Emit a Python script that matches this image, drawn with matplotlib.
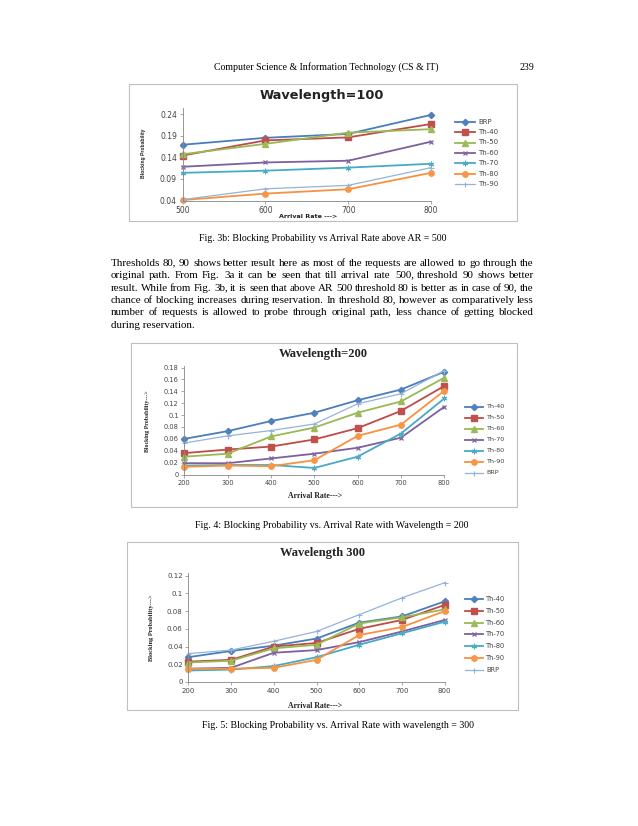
import matplotlib
matplotlib.use('Agg')
import matplotlib.pyplot as plt
from matplotlib.lines import Line2D
from matplotlib.patches import Rectangle

W, H = 638, 826

# ---- data: Fig. 3b (wavelength = 100) ----
ar_100 = [500, 600, 700, 800]
names_100 = ['BRP', 'Th-40', 'Th-50', 'Th-60', 'Th-70', 'Th-80', 'Th-90']
wl100_brp = [0.169, 0.185, 0.194, 0.238]
wl100_th40 = [0.144, 0.179, 0.186, 0.217]
wl100_th50 = [0.147, 0.171, 0.197, 0.205]
wl100_th60 = [0.118, 0.128, 0.132, 0.176]
wl100_th70 = [0.104, 0.109, 0.116, 0.125]
wl100_th80 = [0.041, 0.056, 0.066, 0.104]
wl100_th90 = [0.042, 0.067, 0.075, 0.116]

# ---- data: Fig. 4 (wavelength = 200) and Fig. 5 (wavelength = 300) ----
ar = [200, 300, 400, 500, 600, 700, 800]
names_200 = ['Th-40', 'Th-50', 'Th-60', 'Th-70', 'Th-80', 'Th-90', 'BRP']
wl200_th40 = [0.060, 0.073, 0.090, 0.104, 0.125, 0.143, 0.173]
wl200_th50 = [0.036, 0.042, 0.047, 0.059, 0.078, 0.107, 0.149]
wl200_th60 = [0.030, 0.035, 0.064, 0.079, 0.104, 0.123, 0.163]
wl200_th70 = [0.019, 0.019, 0.027, 0.035, 0.045, 0.062, 0.114]
wl200_th80 = [0.015, 0.016, 0.016, 0.011, 0.030, 0.069, 0.128]
wl200_th90 = [0.013, 0.015, 0.014, 0.024, 0.065, 0.084, 0.141]
wl200_brp = [0.053, 0.065, 0.074, 0.085, 0.119, 0.136, 0.175]

wl300_th40 = [0.028, 0.035, 0.041, 0.049, 0.067, 0.074, 0.091]
wl300_th50 = [0.023, 0.025, 0.040, 0.044, 0.060, 0.070, 0.087]
wl300_th60 = [0.022, 0.024, 0.038, 0.042, 0.066, 0.073, 0.082]
wl300_th70 = [0.015, 0.016, 0.033, 0.036, 0.045, 0.057, 0.070]
wl300_th80 = [0.013, 0.014, 0.018, 0.028, 0.042, 0.055, 0.068]
wl300_th90 = [0.015, 0.015, 0.016, 0.025, 0.053, 0.062, 0.080]
wl300_brp = [0.032, 0.036, 0.046, 0.057, 0.076, 0.095, 0.112]

header = "Computer Science & Information Technology (CS & IT)"
page_no = "239"
cap_3b = "Fig. 3b: Blocking Probability vs Arrival Rate above AR = 500"
cap_4 = "Fig. 4: Blocking Probability vs. Arrival Rate with Wavelength = 200"
cap_5 = "Fig. 5: Blocking Probability vs. Arrival Rate with wavelength = 300"
para = [
    "Thresholds 80, 90 shows better result here as most of the requests are allowed to go through the",
    "original path. From Fig. 3a it can be seen that till arrival rate 500, threshold 90 shows better",
    "result. While from Fig. 3b, it is seen that above AR 500 threshold 80 is better as in case of 90, the",
    "chance of blocking increases during reservation. In threshold 80, however as comparatively less",
    "number of requests is allowed to probe through original path, less chance of getting blocked",
    "during reservation.",
]

# excel 2007 series styles
S = [
    dict(color='#4A7EBB', marker='D', ms=3.2, mfc='#4F81BD', mec='#4F81BD', lw=1.3),
    dict(color='#BE4B48', marker='s', ms=3.9, mfc='#C0504D', mec='#C0504D', lw=1.3),
    dict(color='#98B954', marker='^', ms=4.0, mfc='#9BBB59', mec='#9BBB59', lw=1.3),
    dict(color='#7D60A0', marker='x', ms=3.4, mec='#8064A2', mew=0.9, lw=1.3),
    dict(color='#46AAC5', marker=(6, 2, 0), ms=4.0, mec='#4BACC6', mew=0.8, lw=1.3),
    dict(color='#F69240', marker='o', ms=3.9, mfc='#F79646', mec='#F79646', lw=1.3),
    dict(color='#95B3D7', marker='+', ms=3.6, mec='#95B3D7', mew=0.8, lw=0.9),
]
S100 = S  # BRP first in fig 3b
S200 = S  # Th-40 first, BRP last (light blue) in fig 4/5

SERIF = 'Liberation Serif'
SANS = 'DejaVu Sans'

fig = plt.figure(figsize=(W / 100, H / 100), dpi=100)


def fx(x):
    return x / W


def fy(y):
    return 1 - y / H


def add_ax(left, top, right, bottom):
    return fig.add_axes([fx(left), fy(bottom), (right - left) / W, (bottom - top) / H])


def box(left, top, right, bottom):
    fig.add_artist(Rectangle((fx(left), fy(bottom)), (right - left) / W, (bottom - top) / H,
                             transform=fig.transFigure, fill=False, ec='#BFBFBF', lw=0.8))


def style_axes(ax, tick_fs, family):
    for s in ['top', 'right']:
        ax.spines[s].set_visible(False)
    for s in ['left', 'bottom']:
        ax.spines[s].set_color('#868686')
        ax.spines[s].set_linewidth(0.6)
    ax.tick_params(length=2, width=0.5, color='#868686', labelsize=tick_fs, pad=2,
                   labelcolor='#444444')
    for lab in ax.get_xticklabels() + ax.get_yticklabels():
        lab.set_family(family)


def legend_rows(x1, x2, xt, y0, dy, names, styles, fs, family):
    for i, (n, st) in enumerate(zip(names, styles)):
        y = fy(y0 + i * dy)
        fig.add_artist(Line2D([fx(x1), fx(x2)], [y, y], transform=fig.transFigure,
                              color=st['color'], lw=st['lw']))
        mk = {k: v for k, v in st.items() if k not in ('color', 'lw')}
        fig.add_artist(Line2D([fx((x1 + x2) / 2)], [y], transform=fig.transFigure,
                              ls='none', **mk))
        fig.text(fx(xt), y, n, fontsize=fs, family=family, va='center', ha='left',
                 color='#444444')


# ---------------- Fig. 3b ----------------
box(129, 84, 517, 221)
ax1 = add_ax(182.5, 108, 431, 200.5)
for vals, st in zip([wl100_brp, wl100_th40, wl100_th50, wl100_th60,
                     wl100_th70, wl100_th80, wl100_th90], S100):
    ax1.plot(ar_100, vals, clip_on=False, **st)
ax1.set_xlim(500, 800)
ax1.set_ylim(0.04, 0.254)
ax1.set_xticks(ar_100)
ax1.set_yticks([0.04, 0.09, 0.14, 0.19, 0.24])
ax1.set_yticklabels(['0.04', '0.09', '0.14', '0.19', '0.24'])
style_axes(ax1, 5.5, SANS)
fig.text(fx(322), fy(95), 'Wavelength=100', fontsize=9.3, weight='bold', family=SANS,
         ha='center', va='center', color='#222222')
fig.text(fx(308), fy(216.5), 'Arrival Rate --->', fontsize=4.6, weight='bold', family=SANS,
         ha='center', va='center', color='#222222')
fig.text(fx(143), fy(153), 'Blocking Probability', fontsize=3.6, weight='bold',
         family='Liberation Sans', rotation=90, ha='center', va='center', color='#222222')
legend_rows(455, 475, 478, 121.7, 10.4, names_100, S100, 5.0, SANS)

# ---------------- Fig. 4 ----------------
box(131, 343, 517, 507)
ax2 = add_ax(184.3, 365.8, 444.3, 474.5)
for vals, st in zip([wl200_th40, wl200_th50, wl200_th60, wl200_th70,
                     wl200_th80, wl200_th90, wl200_brp], S200):
    ax2.plot(ar, vals, clip_on=False, **st)
ax2.set_xlim(200, 800)
ax2.set_ylim(0, 0.183)
ax2.set_xticks(ar)
ax2.set_yticks([0, 0.02, 0.04, 0.06, 0.08, 0.1, 0.12, 0.14, 0.16, 0.18])
ax2.set_yticklabels(['0', '0.02', '0.04', '0.06', '0.08', '0.1', '0.12', '0.14', '0.16', '0.18'])
style_axes(ax2, 4.8, SANS)
fig.text(fx(323), fy(354), 'Wavelength=200', fontsize=9, weight='bold', family=SERIF,
         ha='center', va='center', color='#222222')
fig.text(fx(315), fy(495.7), 'Arrival Rate--->', fontsize=5.6, weight='bold', family=SERIF,
         ha='center', va='center', color='#222222')
fig.text(fx(147), fy(421), 'Blocking Probability--->', fontsize=4.2, weight='bold',
         family=SERIF, rotation=90, ha='center', va='center', color='#222222')
legend_rows(465, 483, 486, 406.7, 11.0, names_200, S200, 4.6, SANS)

# ---------------- Fig. 5 ----------------
box(127, 542, 518, 710)
ax3 = add_ax(188.3, 573, 444.7, 682)
for vals, st in zip([wl300_th40, wl300_th50, wl300_th60, wl300_th70,
                     wl300_th80, wl300_th90, wl300_brp], S200):
    ax3.plot(ar, vals, clip_on=False, **st)
ax3.set_xlim(200, 800)
ax3.set_ylim(0, 0.123)
ax3.set_xticks(ar)
ax3.set_yticks([0, 0.02, 0.04, 0.06, 0.08, 0.1, 0.12])
ax3.set_yticklabels(['0', '0.02', '0.04', '0.06', '0.08', '0.1', '0.12'])
style_axes(ax3, 5.0, SANS)
fig.text(fx(322), fy(553.3), 'Wavelength 300', fontsize=9, weight='bold', family=SERIF,
         ha='center', va='center', color='#222222')
fig.text(fx(315), fy(705.7), 'Arrival Rate--->', fontsize=5.6, weight='bold', family=SERIF,
         ha='center', va='center', color='#222222')
fig.text(fx(152), fy(628), 'Blocking Probability--->', fontsize=4.6, weight='bold',
         family=SERIF, rotation=90, ha='center', va='center', color='#222222')
legend_rows(465, 483, 486, 599, 11.8, names_200, S200, 4.8, SANS)

# ---------------- page text ----------------
HFS = 7.1   # header and captions
TFS = 7.9   # body paragraph
fig.text(fx(326.5), fy(67), header, fontsize=HFS, family=SERIF, ha='center', va='center')
fig.text(fx(534), fy(67), page_no, fontsize=HFS, family=SERIF, ha='right', va='center')
fig.text(fx(322.5), fy(238.5), cap_3b, fontsize=HFS, family=SERIF, ha='center', va='center')
fig.text(fx(331.5), fy(525), cap_4, fontsize=HFS, family=SERIF, ha='center', va='center')
fig.text(fx(338), fy(726), cap_5, fontsize=HFS, family=SERIF, ha='center', va='center')

# justified paragraph, word by word; the .6 offset keeps agg's rounding
# from lifting words that end in a comma
renderer = fig.canvas.get_renderer()
left, right = 111, 534
baselines = [265.6, 277.6, 290.6, 302.6, 314.6, 327.6]
for i, (line, y) in enumerate(zip(para, baselines)):
    yb = fy(y)
    if i == len(para) - 1:
        fig.text(fx(left), yb, line, fontsize=TFS, family=SERIF, ha='left', va='baseline')
        continue
    words = line.split(' ')
    arts = [fig.text(0, yb, w, fontsize=TFS, family=SERIF, ha='left', va='baseline')
            for w in words]
    widths = [a.get_window_extent(renderer).width for a in arts]
    gap = (right - left - sum(widths)) / (len(words) - 1)
    x = left
    for a, wd in zip(arts, widths):
        a.set_x(fx(round(x)))
        x += wd + gap

fig.savefig('out.png', dpi=100, facecolor='white')
